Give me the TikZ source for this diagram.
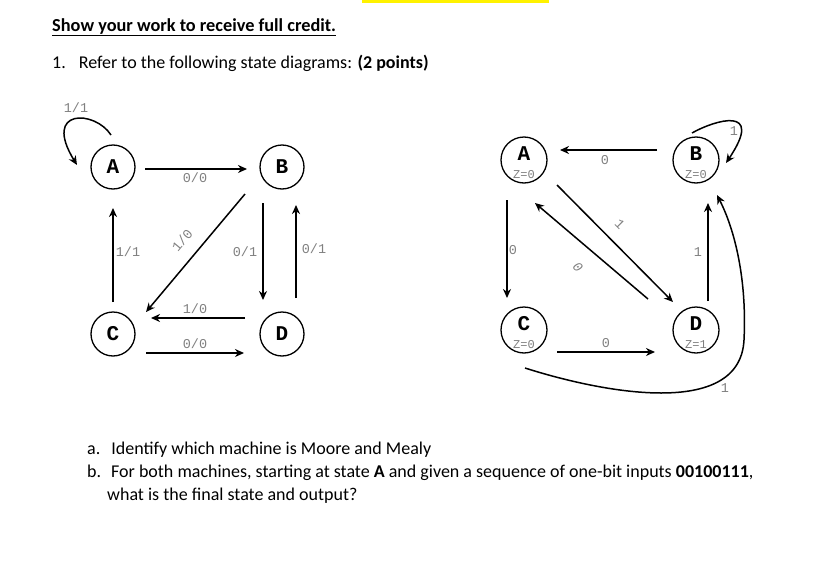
\documentclass[tikz,border=0pt]{standalone}
\usepackage{fontspec}
\setmainfont{Carlito}
\newfontfamily\monof{Liberation Mono}
\usetikzlibrary{arrows.meta}
\begin{document}
\begin{tikzpicture}[x=1pt,y=-1pt,
  st/.style={circle,draw,line width=1.3pt,minimum size=44pt,inner sep=0pt,font=\monof\bfseries\fontsize{21}{21}\selectfont},
  stm/.style={circle,draw,line width=1.3pt,minimum size=46pt,inner sep=0pt},
  let/.style={font=\monof\bfseries\fontsize{21}{21}\selectfont,inner sep=0pt},
  zz/.style={text=gray,font=\monof\fontsize{12}{12}\selectfont,inner sep=0pt},
  ar/.style={line width=1.5pt,-{Stealth[length=9pt,width=8pt]}},
  lb/.style={text=gray,font=\monof\fontsize{13.5}{13.5}\selectfont,inner sep=1pt},
  tx/.style={anchor=base west,inner sep=0pt,font=\fontsize{18}{20}\selectfont}]
\useasboundingbox (0,0) rectangle (831,565);
\fill[yellow] (362,0) rectangle (549,2.5);
\node[anchor=base west,inner sep=0pt] (t1) at (52,31) {\fontsize{18.3}{20}\selectfont\textbf{\underline{Show your work to receive full credit.}}};
\node[tx] (t2) at (52,68) {1.\hspace{13pt}Refer to the following state diagrams: \textbf{(2 points)}};
% left
\node[st] (A) at (113,167) {A};
\node[st] (B) at (282,167) {B};
\node[st] (C) at (113,334) {C};
\node[st] (D) at (282,334) {D};
\coordinate (la) at (111,135);
\coordinate (lb) at (77,165);
\draw[ar] (la) .. controls (95,110) and (42,108) .. (lb);
\node[lb] (l1) at (76,108) {1/1};
\draw[ar] (145,169) -- (247,169);
\node[lb] (l2) at (195,178) {0/0};
\draw[ar] (245,194) -- (146,312);
\node[lb,rotate=50] (l3) at (182,240) {1/0};
\draw[ar] (263,203) -- (263,300);
\node[lb] (l4) at (245,252) {0/1};
\draw[ar] (296,298) -- (296,205);
\node[lb] (l5) at (314,249) {0/1};
\draw[ar] (113,302) -- (113,208);
\node[lb] (l6) at (128,252) {1/1};
\draw[ar] (245,318) -- (151,318);
\node[lb] (l7) at (195,309) {1/0};
\draw[ar] (146,353) -- (244,353);
\node[lb] (l8) at (195,344) {0/0};
% right
\node[stm] (RA) at (524,160) {}; \node[let] at (524,154) {A}; \node[zz] at (524,175) {Z=0};
\node[stm] (RB) at (696,160) {}; \node[let] at (696,154) {B}; \node[zz] at (696,175) {Z=0};
\node[stm] (RC) at (524,330) {}; \node[let] at (524,324) {C}; \node[zz] at (524,345) {Z=0};
\node[stm] (RD) at (696,330) {}; \node[let] at (696,324) {D}; \node[zz] at (696,345) {Z=1};
\draw[ar] (657,150) -- (560,150);
\node[lb] (r1) at (605,160) {0};
\draw[ar] (692,133) .. controls (715,120) and (765,105) .. (726,163);
\node[lb] (r2) at (734,131) {1};
\draw[ar] (557,185) -- (673,302);
\node[lb,rotate=-45] (r3) at (620,224) {1};
\draw[ar] (648,299) -- (535,203);
\node[lb,rotate=-45,font=\monof\itshape\fontsize{13.5}{13.5}\selectfont] (r4) at (578,267) {0};
\draw[ar] (507,200) -- (507,298);
\node[lb] (r5) at (513,250) {0};
\draw[ar] (557,352) -- (655,352);
\node[lb] (r6) at (606,343) {0};
\draw[ar] (708,301) -- (708,203);
\node[lb] (r7) at (698,252) {1};
\draw[ar] (525,368) .. controls (600,392) and (740,420) .. (744,340) .. controls (747,280) and (735,230) .. (717,195);
\node[lb] (r8) at (725,388) {1};
% questions
\node[tx] (qa) at (87,454) {a.\hspace{11pt}Identify which machine is Moore and Mealy};
\node[tx] (qb) at (87,477) {b.\hspace{10pt}For both machines, starting at state \textbf{A} and given a sequence of one-bit inputs \textbf{00100111},};
\node[tx] (qc) at (107,500) {what is the final state and output?};
\end{tikzpicture}
\end{document}
